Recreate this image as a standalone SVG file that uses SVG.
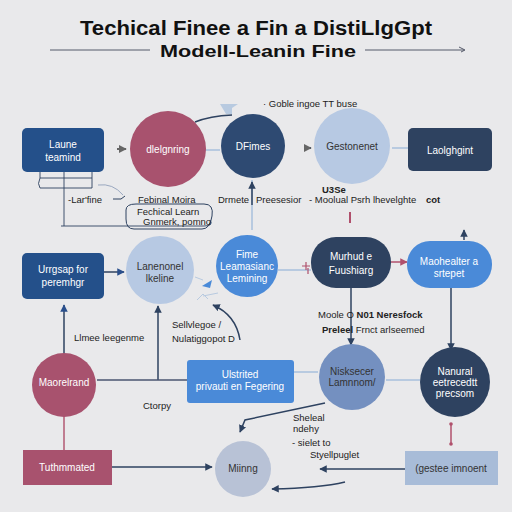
<svg xmlns="http://www.w3.org/2000/svg" width="512" height="512" viewBox="0 0 512 512">
<defs>
<style>
text{font-family:"Liberation Sans",Arial,sans-serif;}
.t{font-weight:bold;fill:#111;}
.w{fill:#fff;font-size:10px;text-anchor:middle;}
.d{fill:#333;font-size:10px;text-anchor:middle;}
.l{fill:#222;font-size:9.5px;}
.c{fill:none;stroke:#2e4260;stroke-width:1.5;}
.lc{fill:none;stroke:#b8cae0;stroke-width:2;}
.pc{fill:none;stroke:#b0506c;stroke-width:1.5;}
</style>
<marker id="a" viewBox="0 0 10 10" refX="9" refY="5" markerWidth="5" markerHeight="5" orient="auto"><path d="M0,0L10,5L0,10z" fill="#2e4260"/></marker>
<marker id="ab" viewBox="0 0 10 10" refX="9" refY="5" markerWidth="5" markerHeight="5" orient="auto"><path d="M0,0L10,5L0,10z" fill="#2a4f8c"/></marker>
<marker id="ap" viewBox="0 0 10 10" refX="9" refY="5" markerWidth="5" markerHeight="5" orient="auto"><path d="M0,0L10,5L0,10z" fill="#b0506c"/></marker>
<marker id="ag" viewBox="0 0 10 10" refX="9" refY="5" markerWidth="4" markerHeight="4" orient="auto"><path d="M0,0L10,5L0,10z" fill="#666"/></marker>
</defs>
<rect width="512" height="512" fill="#e9e9eb"/>
<g id="title">
<text x="256" y="35" class="t" font-size="20" text-anchor="middle" textLength="352" lengthAdjust="spacingAndGlyphs">Techical  Finee a Fin a DistiLlgGpt</text>
<text x="258" y="57" class="t" font-size="17" text-anchor="middle" textLength="196" lengthAdjust="spacingAndGlyphs">ModelI-Leanin Fine</text>
<line x1="50" y1="50" x2="150" y2="50" stroke="#555a6a" stroke-width="1"/>
<line x1="365" y1="50" x2="464" y2="50" stroke="#555a6a" stroke-width="1"/>
<path d="M459,47L465,50L461,52" fill="none" stroke="#555a6a" stroke-width="1"/>
</g>
<g id="connectors">
<line x1="104" y1="272" x2="124" y2="272" class="c" stroke="#2a4f8c" marker-end="url(#ab)"/>
<line x1="64" y1="354" x2="64" y2="305" class="c" stroke="#2a4f8c" marker-end="url(#ab)"/>
<line x1="158" y1="380" x2="158" y2="306" class="c" stroke-width="1.2" marker-end="url(#a)"/>
<line x1="97" y1="380" x2="188" y2="380" stroke="#4a5470" stroke-width="1.5"/>
<line x1="64" y1="416" x2="64" y2="450" stroke="#b0506c" stroke-width="2" opacity="0.7"/>
<line x1="112" y1="467" x2="212" y2="467" class="c" marker-end="url(#a)"/>
<line x1="351" y1="288" x2="351" y2="345" class="c" stroke-width="2" marker-end="url(#a)"/>
<line x1="451" y1="288" x2="451" y2="350" class="c" stroke-width="2" marker-end="url(#a)"/>
<line x1="464" y1="240" x2="464" y2="230" class="c" marker-end="url(#a)"/>
<line x1="391" y1="262" x2="407" y2="262" class="pc" marker-end="url(#ap)"/>
<line x1="278" y1="270" x2="311" y2="270" class="lc"/>
<path d="M306,262v8M302,266h8M308,268v6" stroke="#b0506c" stroke-width="1.2"/>
<line x1="205" y1="150" x2="220" y2="150" class="lc"/>
<line x1="392" y1="148" x2="408" y2="148" class="lc"/>
<line x1="294" y1="372" x2="318" y2="372" class="lc"/>
<line x1="386" y1="380" x2="420" y2="380" class="lc"/>
<line x1="117" y1="149" x2="126" y2="149" stroke="#666" stroke-width="2" marker-end="url(#ag)"/>
<line x1="306" y1="148" x2="311" y2="148" stroke="#2e4260" stroke-width="2" marker-end="url(#ag)"/>
<path d="M195,122Q210,116 232,115" class="c" stroke="#6a7a90" stroke-width="1"/>
<path d="M220,104h18l-6,4v6h-6z" fill="#b8cae0"/>
<line x1="252" y1="230" x2="252" y2="180" stroke="#b8cae0" stroke-width="2"/>
<line x1="252" y1="205" x2="252" y2="182" class="c" stroke-width="1" marker-end="url(#a)"/>
<line x1="350" y1="212" x2="350" y2="223" stroke="#b0506c" stroke-width="2"/>
<path d="M40,178h52M40,172v6q-3,6 0,10h52v-16M64,172v54h-3M64,226h140q10,0 6,-6" fill="none" stroke="#2e4260" stroke-width="0.9"/>
<path d="M126,210q0,-6 10,-6h68q10,0 8,12q-2,13 -10,13h-68q-8,0 -8,-10z" fill="none" stroke="#2e4260" stroke-width="1"/>
<path d="M98,185q15,-2 25,10" fill="none" stroke="#9aa8c0" stroke-width="1"/>
<path d="M113,199h8l4,-3" fill="none" stroke="#2e4260" stroke-width="1"/>
<path d="M240,340Q236,315 213,305" class="c" stroke-width="1" marker-end="url(#a)"/>
<path d="M202,286l10,-6l-2,8z" fill="#4a8ad8"/>
<path d="M195,277l8,3M197,300l6,-6l5,5M203,296l15,-3" fill="none" stroke="#b8cae0" stroke-width="1"/>
<path d="M325,403L245,420L240,432" class="c" stroke-width="1" marker-end="url(#a)"/>
<path d="M405,469H320" class="c" stroke-width="1.2" marker-end="url(#a)"/>
<path d="M345,482Q320,488 272,489" class="c" stroke-width="1.2" marker-end="url(#a)"/>
<line x1="451" y1="424" x2="451" y2="444" stroke="#b0506c" stroke-width="1.5"/>
<circle cx="451" cy="424" r="1.8" fill="#b0506c"/><circle cx="451" cy="444" r="1.8" fill="#b0506c"/>
</g>
<g id="n1"><rect x="22" y="128" width="82" height="44" rx="5" fill="#24508a"/><text x="63" y="148" class="w">Laune</text><text x="63" y="161" class="w">teamind</text></g>
<g id="n2"><circle cx="168" cy="149" r="38" fill="#a8526e"/><text x="168" y="153" class="w">dlelgnring</text></g>
<g id="n3"><circle cx="253" cy="146" r="32" fill="#2e4a72"/><text x="253" y="150" class="w">DFimes</text></g>
<g id="n4"><circle cx="352" cy="146" r="38" fill="#b7c9e3"/><text x="352" y="150" class="d">Gestonenet</text></g>
<g id="n5"><rect x="408" y="128" width="84" height="43" rx="5" fill="#2e4260"/><text x="450" y="154" class="w">Laolghgint</text></g>
<g id="n6"><rect x="22" y="253" width="82" height="46" rx="5" fill="#24508a"/><text x="63" y="273" class="w">Urrgsap for</text><text x="63" y="286" class="w">peremhgr</text></g>
<g id="n7"><circle cx="160" cy="270" r="34" fill="#b7c9e3"/><text x="160" y="270" class="d" font-size="9">Lanenonel</text><text x="160" y="282" class="d" font-size="9">lkeline</text></g>
<g id="n8"><circle cx="247" cy="266" r="31" fill="#4a8ad8"/><text x="247" y="258" class="w">Fime</text><text x="247" y="270" class="w">Leamasianc</text><text x="247" y="282" class="w">Lemining</text></g>
<g id="n9"><rect x="311" y="237" width="80" height="51" rx="25" fill="#2e4260"/><text x="351" y="260" class="w">Murhud e</text><text x="351" y="274" class="w">Fuushiarg</text></g>
<g id="n10"><rect x="407" y="241" width="85" height="47" rx="23" fill="#4a8ad8"/><text x="449" y="265" class="w">Maohealter a</text><text x="449" y="277" class="w">srtepet</text></g>
<g id="n11"><circle cx="64" cy="385" r="32" fill="#a8526e"/><text x="64" y="386" class="w">Maorelrand</text></g>
<g id="n12"><rect x="187" y="360" width="107" height="43" rx="3" fill="#4a8ad8"/><text x="240" y="378" class="w">Ulstrited</text><text x="240" y="390" class="w">privauti en Fegering</text></g>
<g id="n13"><circle cx="352" cy="377" r="33" fill="#7490c0"/><text x="352" y="375" class="d" font-size="9">Nisksecer</text><text x="352" y="386" class="d" font-size="9">Lamnnom/</text></g>
<g id="n14"><circle cx="455" cy="382" r="35" fill="#2e4260"/><text x="455" y="375" class="w">Nanural</text><text x="455" y="386" class="w">eetrecedtt</text><text x="455" y="397" class="w">precsom</text></g>
<g id="n15"><rect x="23" y="450" width="89" height="35" fill="#a8526e"/><text x="67" y="471" class="w">Tuthmmated</text></g>
<g id="n16"><circle cx="243" cy="469" r="28" fill="#b8c2d6"/><text x="243" y="472" class="d">Miinng</text></g>
<g id="n17"><rect x="405" y="451" width="93" height="34" fill="#a8bcd8"/><text x="451" y="472" class="d">(gestee imnoent</text></g>
<g id="labels">
<text x="263" y="107" class="l">· Goble ingoe TT buse</text>
<text x="322" y="193" class="l" font-weight="bold">U3Se</text>
<text x="218" y="203" class="l" fill="#3a6ac0">Drmete</text>
<text x="256" y="203" class="l">Preesesior</text>
<text x="309" y="203" class="l">- Moolual Psrh lhevelghte</text>
<text x="426" y="203" class="l" font-weight="bold">cot</text>
<text x="68" y="203" class="l" font-size="10.5">-Lar'fine</text>
<text x="138" y="203" class="l" fill="#2a4f8c">Febinal Moira</text>
<text x="137" y="215" class="l" font-size="9">Fechical Learn</text>
<text x="143" y="225" class="l" font-size="9">Gnmerk, pomno</text>
<text x="172" y="328" class="l">Sellvlegoe /</text>
<text x="172" y="342" class="l">Nulatiggopot  D</text>
<text x="74" y="341" class="l">Llmee leegenme</text>
<text x="318" y="318" class="l">Moole  O  <tspan font-weight="bold">N01 Neresfock</tspan></text>
<text x="322" y="333" class="l"><tspan font-weight="bold">Preleel</tspan>  Frnct arlseemed</text>
<text x="143" y="409" class="l">Ctorpy</text>
<text x="293" y="421" class="l">Sheleal</text>
<text x="293" y="432" class="l">ndehy</text>
<text x="292" y="446" class="l">- sielet  to</text>
<text x="310" y="458" class="l">Styellpuglet</text>
</g>
</svg>
